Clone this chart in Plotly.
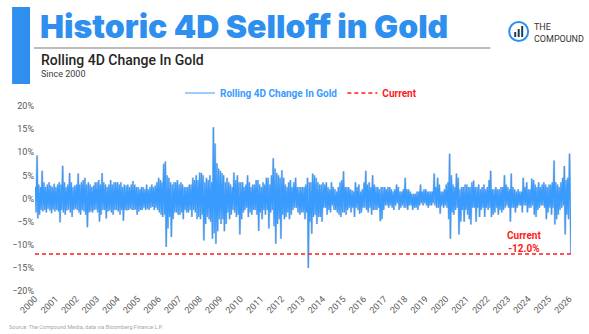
import pandas as pd
import plotly.graph_objects as go

# ---- Data (monthly high / low of the rolling 4-day % change) ----
years = list(range(2000, 2026))
monthly_high = {
    2000: [2.5, 9.3, 3.0, 2.5, 6.0, 3.5, 2.5, 3.0, 3.5, 2.8, 2.5, 3.2],
    2001: [2.5, 3.0, 3.5, 3.0, 7.1, 3.5, 2.5, 3.0, 5.5, 3.5, 2.5, 2.8],
    2002: [3.0, 5.4, 3.0, 3.5, 4.0, 4.5, 3.0, 3.5, 3.0, 2.5, 2.8, 3.5],
    2003: [3.5, 4.0, 3.0, 5.5, 3.5, 3.0, 2.5, 3.0, 4.0, 3.0, 3.5, 3.5],
    2004: [3.5, 3.0, 3.5, 2.5, 3.0, 2.8, 3.0, 2.5, 3.0, 3.8, 3.0, 2.5],
    2005: [2.5, 2.0, 2.5, 2.5, 2.0, 3.0, 2.0, 2.5, 3.0, 2.5, 2.8, 3.5],
    2006: [4.5, 4.0, 3.5, 7.5, 8.0, 5.0, 4.5, 3.5, 3.0, 3.5, 3.5, 4.0],
    2007: [3.0, 3.5, 3.0, 2.5, 2.5, 2.5, 3.0, 3.0, 4.5, 4.0, 5.0, 4.0],
    2008: [5.6, 5.5, 5.0, 3.5, 4.5, 4.0, 5.0, 3.5, 15.4, 11.9, 7.6, 6.5],
    2009: [6.0, 5.5, 5.0, 3.5, 4.5, 3.5, 3.0, 2.5, 5.6, 4.0, 5.0, 3.5],
    2010: [3.5, 3.5, 2.5, 3.0, 5.0, 3.5, 2.5, 3.0, 3.0, 4.0, 4.0, 3.0],
    2011: [2.5, 3.5, 3.0, 4.5, 4.5, 3.0, 5.0, 8.7, 6.5, 5.5, 5.0, 4.5],
    2012: [6.1, 4.5, 3.0, 2.5, 3.5, 4.0, 2.5, 3.5, 4.5, 2.5, 2.5, 2.5],
    2013: [2.5, 2.5, 3.0, 4.5, 3.5, 3.5, 5.4, 5.0, 4.5, 3.5, 3.0, 3.0],
    2014: [3.5, 3.0, 3.5, 2.5, 2.0, 3.5, 2.5, 2.0, 1.5, 2.5, 3.5, 4.0],
    2015: [5.9, 2.5, 2.5, 2.5, 2.0, 1.8, 1.5, 3.5, 2.5, 3.0, 1.5, 2.0],
    2016: [3.5, 6.0, 3.0, 3.5, 2.5, 5.0, 3.0, 2.5, 2.5, 2.0, 2.5, 2.5],
    2017: [2.5, 2.0, 2.5, 2.5, 2.0, 1.5, 2.0, 3.0, 2.5, 1.5, 1.5, 2.0],
    2018: [4.5, 2.0, 2.0, 1.5, 1.0, 1.0, 1.0, 1.5, 1.5, 3.0, 1.5, 2.0],
    2019: [2.0, 1.5, 1.5, 1.5, 1.5, 5.4, 2.5, 4.5, 3.0, 1.5, 1.5, 2.0],
    2020: [3.0, 3.5, 9.7, 5.0, 3.0, 2.5, 5.4, 4.5, 2.0, 2.5, 2.5, 3.0],
    2021: [3.0, 2.5, 2.5, 3.5, 3.9, 2.5, 2.5, 3.0, 2.0, 2.5, 3.0, 2.0],
    2022: [2.5, 4.0, 6.0, 2.0, 2.0, 2.5, 2.0, 2.0, 2.5, 2.5, 5.0, 3.0],
    2023: [2.5, 2.0, 5.4, 2.5, 2.0, 1.5, 2.0, 1.5, 1.5, 4.5, 2.5, 3.5],
    2024: [2.0, 2.0, 4.3, 4.0, 3.0, 2.5, 3.5, 2.5, 3.0, 3.5, 3.0, 2.5],
    2025: [3.0, 3.0, 3.5, 8.2, 3.5, 3.0, 2.5, 3.5, 4.5, 7.0, 4.0, 4.5],
}
monthly_low = {
    2000: [-3.0, -4.3, -3.5, -2.5, -2.8, -2.5, -3.0, -2.2, -2.6, -3.2, -2.4, -2.8],
    2001: [-2.5, -2.8, -5.2, -2.5, -3.0, -3.5, -2.6, -2.4, -3.0, -4.0, -2.5, -2.2],
    2002: [-2.5, -3.0, -3.5, -2.5, -2.8, -3.5, -6.2, -3.0, -2.8, -3.0, -2.5, -2.4],
    2003: [-3.0, -5.0, -3.5, -2.5, -2.5, -4.3, -2.8, -2.6, -3.0, -3.5, -2.5, -2.5],
    2004: [-2.8, -3.5, -2.5, -4.8, -2.5, -2.6, -2.5, -2.2, -2.5, -2.5, -2.4, -3.5],
    2005: [-2.8, -2.5, -2.5, -2.0, -2.5, -2.2, -2.5, -2.0, -1.8, -2.5, -2.0, -2.5],
    2006: [-3.0, -3.5, -4.0, -3.5, -10.5, -6.5, -4.0, -8.3, -4.5, -3.0, -3.0, -3.5],
    2007: [-3.5, -3.0, -4.5, -2.5, -3.0, -3.0, -2.5, -4.0, -2.5, -3.0, -4.5, -4.0],
    2008: [-4.5, -3.5, -9.1, -5.5, -4.0, -4.5, -5.0, -8.7, -7.5, -9.8, -7.1, -4.5],
    2009: [-5.5, -4.5, -7.1, -5.5, -3.0, -4.5, -3.5, -2.5, -3.0, -4.0, -3.5, -7.8],
    2010: [-4.5, -3.0, -2.5, -2.0, -4.0, -3.0, -3.5, -2.5, -2.5, -3.5, -7.0, -3.0],
    2011: [-4.5, -2.5, -3.5, -2.5, -6.5, -3.0, -2.5, -6.0, -9.8, -5.5, -4.5, -8.7],
    2012: [-3.5, -4.5, -4.0, -3.0, -4.5, -3.5, -2.5, -2.0, -2.0, -3.0, -3.5, -3.0],
    2013: [-3.0, -4.5, -3.0, -15.0, -5.0, -7.6, -4.0, -3.5, -5.5, -4.0, -4.0, -5.0],
    2014: [-2.0, -2.0, -3.5, -2.5, -3.0, -1.5, -2.5, -2.5, -3.0, -3.5, -4.0, -3.0],
    2015: [-3.0, -3.5, -2.5, -2.0, -3.0, -2.0, -4.0, -2.0, -2.5, -3.3, -3.0, -2.0],
    2016: [-2.0, -2.5, -3.0, -2.0, -3.5, -2.5, -2.5, -2.5, -2.0, -4.9, -4.5, -2.5],
    2017: [-1.5, -1.5, -2.0, -1.5, -2.0, -2.5, -1.5, -1.0, -2.5, -2.0, -1.5, -2.0],
    2018: [-2.0, -2.5, -1.5, -1.5, -2.5, -2.0, -2.0, -2.5, -1.5, -1.0, -1.5, -1.0],
    2019: [-1.5, -2.0, -1.5, -1.5, -1.0, -1.5, -2.0, -2.0, -3.3, -1.5, -2.0, -1.5],
    2020: [-2.0, -4.5, -8.7, -3.0, -3.5, -2.5, -2.0, -7.8, -5.0, -2.5, -5.0, -2.5],
    2021: [-3.5, -4.5, -5.6, -2.0, -2.0, -5.0, -2.0, -4.0, -2.5, -2.0, -4.0, -2.0],
    2022: [-2.5, -2.0, -4.0, -3.5, -3.0, -2.0, -3.5, -2.5, -3.0, -2.5, -2.0, -1.5],
    2023: [-2.0, -5.0, -2.0, -2.0, -3.0, -2.0, -1.5, -1.5, -3.0, -1.5, -1.5, -3.0],
    2024: [-2.0, -2.0, -1.5, -3.5, -4.0, -2.5, -2.0, -1.5, -1.5, -2.0, -4.5, -3.0],
    2025: [-2.0, -3.5, -2.0, -5.6, -4.5, -3.5, -2.5, -2.0, -1.5, -7.8, -3.5, -4.5],
}
jan2026_high = 9.7
jan2026_low = -4.0
current_date = "2026-02-02"
current_value = -12.0

# ---- Build the series ----
dates, values = [], []
for y in years:
    for m in range(12):
        dates.append(f"{y}-{m+1:02d}-07"); values.append(monthly_high[y][m])
        dates.append(f"{y}-{m+1:02d}-21"); values.append(monthly_low[y][m])
dates += ["2026-01-07", "2026-01-21", current_date]
values += [jan2026_high, jan2026_low, current_value]
dates = pd.to_datetime(dates)

# ---- Pixel helpers for decorations ----
W, H = 589, 334
L, R, T, B = 33, 571, 106, 291
def px(x): return (x - L) / (R - L)
def py(y): return (B - y) / (B - T)

BLUE = "#2E8FEF"
LINE = "#3A9BFF"

fig = go.Figure()
# soft grey shadow under the series (as in the original's line effect)
fig.add_trace(go.Scatter(
    x=dates, y=values, mode="lines",
    line=dict(color="rgba(80,80,80,0.28)", width=2.2),
    showlegend=False, hoverinfo="skip",
))
fig.add_trace(go.Scatter(
    x=dates, y=values, mode="lines",
    line=dict(color=LINE, width=1.2),
    name="<b>Rolling 4D Change In Gold</b>",
    hoverinfo="skip",
))
fig.add_trace(go.Scatter(
    x=[pd.Timestamp("2000-01-01"), dates[-1]], y=[current_value, current_value], mode="lines",
    line=dict(color="#FF1A1A", width=1.5, dash="4px,3px"),
    name="<b><span style='color:#FF1A1A'>Current</span></b>",
    hoverinfo="skip",
))

fig.update_layout(
    width=W, height=H,
    margin=dict(l=L, r=W - R, t=T, b=H - B),
    paper_bgcolor="white", plot_bgcolor="white",
    font=dict(family="Roboto", color="#595959", size=9),
    showlegend=True,
    legend=dict(orientation="h", x=px(300), y=py(93), xanchor="center", yanchor="middle",
                font=dict(color=LINE, size=10, family="Roboto"),
                itemwidth=30, tracegroupgap=0, bgcolor="rgba(0,0,0,0)"),
    xaxis=dict(type="date", range=["2000-01-01", dates[-1]], tick0="2000-01-01", dtick="M12",
               tickformat="%Y", tickangle=-45, showgrid=False, zeroline=False,
               showline=False, ticks="", tickfont=dict(size=9, color="#595959")),
    yaxis=dict(range=[-20, 20], dtick=5, ticksuffix="%", showgrid=False, zeroline=False,
               showline=False, ticks="", tickfont=dict(size=9, color="#595959")),
)

shapes = [
    dict(type="rect", xref="paper", yref="paper", x0=px(10), x1=px(28), y0=py(84), y1=py(7),
         fillcolor=BLUE, line=dict(width=0)),
    dict(type="line", xref="paper", yref="paper", x0=px(32), x1=px(490), y0=py(48), y1=py(48),
         line=dict(color="#A6A6A6", width=1.5)),
    # logo icon
    dict(type="circle", xref="paper", yref="paper", x0=px(509), x1=px(528), y0=py(41), y1=py(22),
         line=dict(color="#2E8FEF", width=2), fillcolor="rgba(0,0,0,0)"),
    dict(type="rect", xref="paper", yref="paper", x0=px(514), x1=px(516), y0=py(37), y1=py(32),
         fillcolor="#1F3B5A", line=dict(width=0)),
    dict(type="rect", xref="paper", yref="paper", x0=px(517.5), x1=px(519.5), y0=py(37), y1=py(29),
         fillcolor="#1F3B5A", line=dict(width=0)),
    dict(type="rect", xref="paper", yref="paper", x0=px(521), x1=px(523), y0=py(37), y1=py(26),
         fillcolor="#1F3B5A", line=dict(width=0)),
]
fig.update_layout(shapes=shapes)

ann = [
    dict(text="Historic 4D Selloff in Gold", x=px(36), y=py(27), xanchor="left", yanchor="middle",
         font=dict(family="Inter", size=32, color=BLUE, weight=900)),
    dict(text="Rolling 4D Change In Gold", x=px(37), y=py(60), xanchor="left", yanchor="middle",
         font=dict(family="Roboto", size=14, color="#262626", weight=500)),
    dict(text="Since 2000", x=px(37), y=py(74), xanchor="left", yanchor="middle",
         font=dict(family="Roboto", size=9, color="#404040")),
    dict(text="THE<br>COMPOUND", x=px(532), y=py(33), xanchor="left", yanchor="middle", align="left",
         font=dict(family="Roboto", size=9, color="#333333")),
    dict(text="Source: The Compound Media, data via Bloomberg Finance L.P.", x=px(5), y=py(327),
         xanchor="left", yanchor="middle", font=dict(family="Roboto", size=5.5, color="#A6A6A6")),
]
for a in ann:
    a.update(xref="paper", yref="paper", showarrow=False)
fig.update_layout(annotations=ann)
fig.add_annotation(text="<b>Current<br>-12.0%</b>", x="2023-10-15", y=-9.3, xref="x", yref="y",
                   showarrow=False, font=dict(family="Roboto", size=10, color="#FF1A1A"))

fig.write_html("out.html")
